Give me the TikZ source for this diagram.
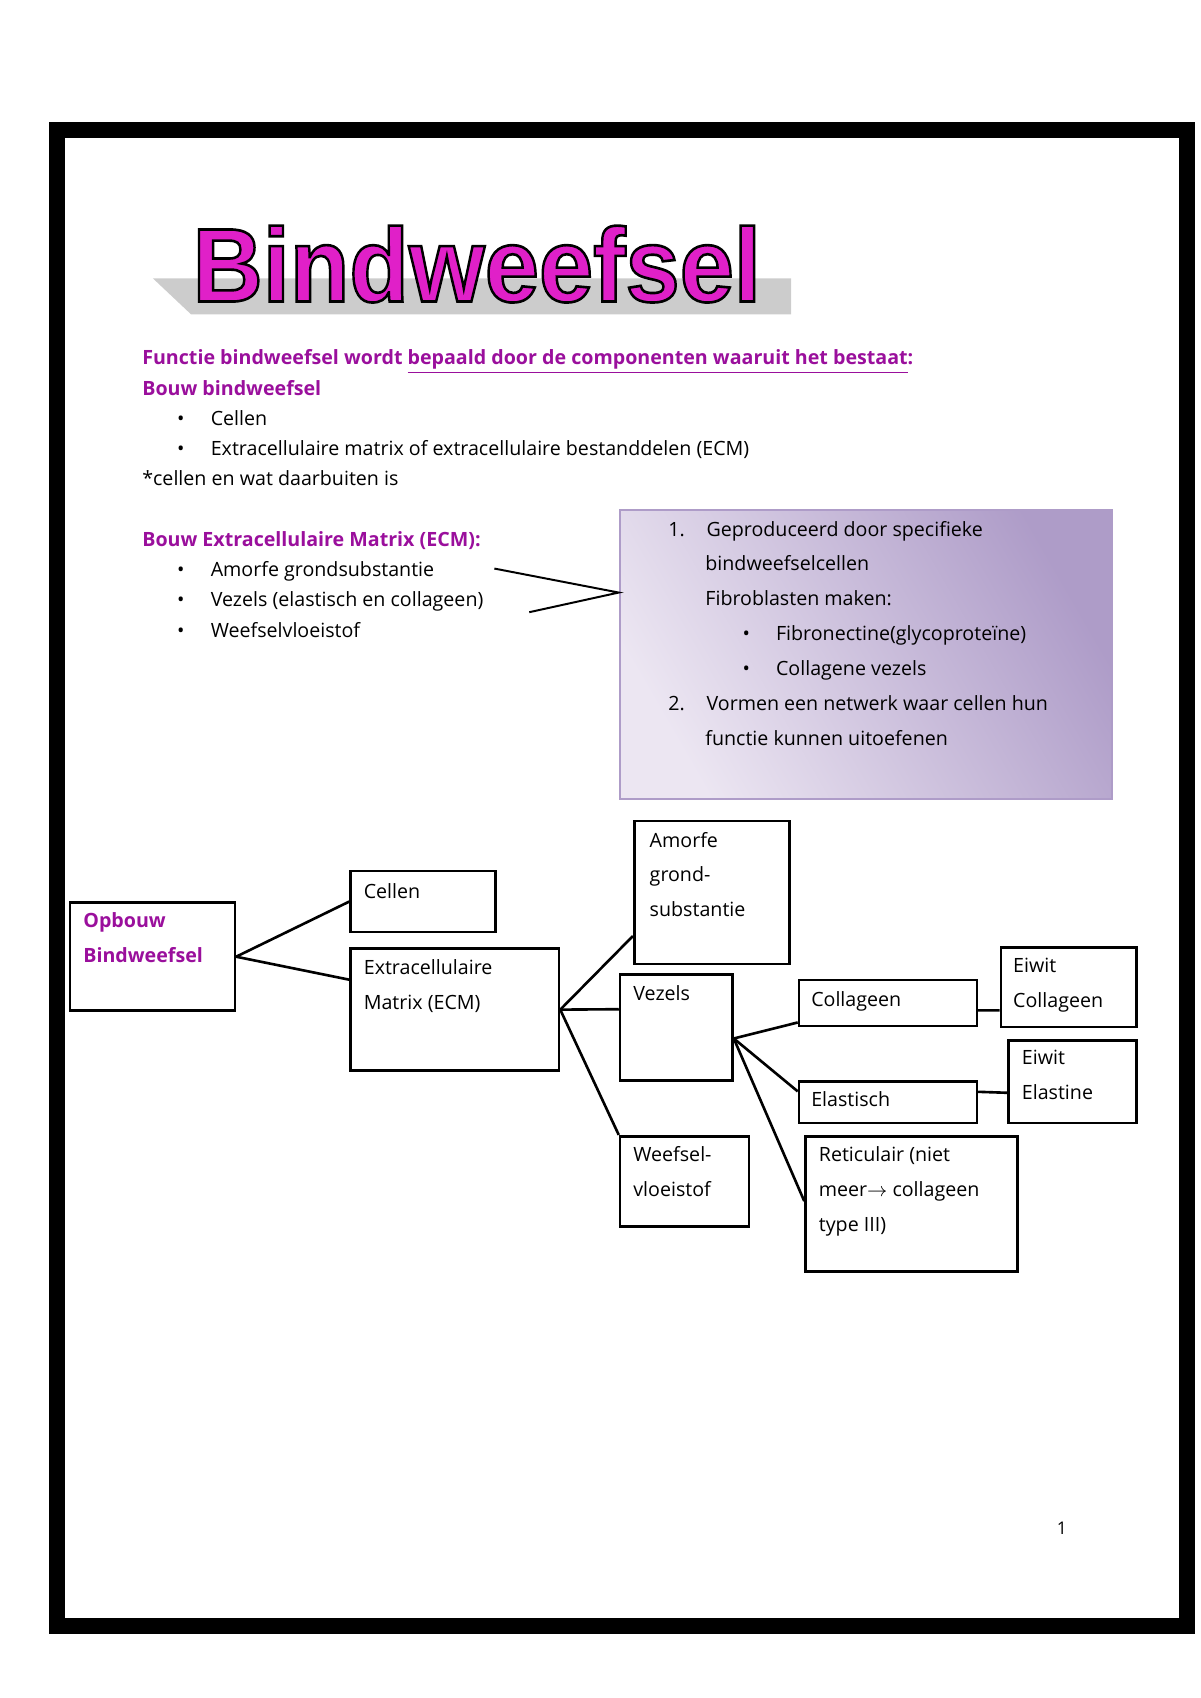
\documentclass[tikz,border=0pt]{standalone}
\usepackage{fontspec}
\setmainfont{Open Sans}
\newfontfamily\titlefont{Liberation Sans}
\usetikzlibrary{calc}
\definecolor{pur}{HTML}{9A0F9C}
\definecolor{mag}{HTML}{E020C8}
\definecolor{lavd}{HTML}{AE9CC8}
\definecolor{lavl}{HTML}{ECE6F2}
\tikzset{
 bx/.style={draw,line width=1.2pt,anchor=north west,inner sep=0},
 tx/.style={anchor=north west,align=left,inner sep=0,font=\fontsize{9}{16}\selectfont},
 ln/.style={line width=1.2pt},
 ptx/.style={anchor=north west,align=left,inner sep=0,text=pur,font=\bfseries\fontsize{9}{14}\selectfont}
}
\newcommand{\outl}[1]{\special{pdf:literal direct 2 Tr 1.2 w 0 0 0 RG}#1\special{pdf:literal direct 0 Tr}}
\begin{document}
\begin{tikzpicture}[x=0.5pt,y=-0.5pt]
\useasboundingbox (0,0) rectangle (1100,1556);
\draw[line width=7.5pt] (52,119) rectangle (1088,1490);
% title
\fill[gray!40] (140,255) -- (725,255) -- (725,288) -- (175,288) -- cycle;
\node[anchor=west,inner sep=0,text=mag,xscale=0.93,font=\titlefont\bfseries\fontsize{48}{48}\selectfont] (title) at (176,242) {\outl{Bindweefsel}};
% text
\node[ptx] (f1) at (130,320) {Functie bindweefsel wordt \underline{bepaald door de componenten waaruit het bestaat}:};
\node[ptx] (f2) at (130,348) {Bouw bindweefsel};
\node[tx,font=\fontsize{9}{13.5}\selectfont] (b1) at (162,376) {\textbullet\hspace{12pt}Cellen\\ \textbullet\hspace{12pt}Extracellulaire matrix of extracellulaire bestanddelen (ECM)};
\node[tx] (b2) at (130,431) {*cellen en wat daarbuiten is};
\node[ptx] (f3) at (130,487) {Bouw Extracellulaire Matrix (ECM):};
\node[tx,font=\fontsize{9}{14}\selectfont] (b3) at (162,514) {\textbullet\hspace{12pt}Amorfe grondsubstantie\\ \textbullet\hspace{12pt}Vezels (elastisch en collageen)\\ \textbullet\hspace{12pt}Weefselvloeistof};
% purple box
\node[anchor=north west,inner sep=0,minimum width=451*0.5pt,minimum height=265*0.5pt,draw=lavd,line width=1pt,shading=axis,left color=lavl,right color=lavd,shading angle=120] (pbox) at (567,466) {};
\node[tx] (pt) at (612,477) {1.\hspace{10pt}Geproduceerd door specifieke\\ \hspace{17pt}bindweefselcellen\\ \hspace{17pt}Fibroblasten maken:\\ \hspace{34pt}\textbullet\hspace{12pt}Fibronectine(glycoproteïne)\\ \hspace{34pt}\textbullet\hspace{12pt}Collagene vezels\\ 2.\hspace{10pt}Vormen een netwerk waar cellen hun\\ \hspace{17pt}functie kunnen uitoefenen};
\coordinate (a1) at (453,521);
\coordinate (a2) at (485,561);
\coordinate (ap) at (567,543);
\draw[line width=0.9pt] (a1) -- (ap) -- (a2);
% diagram boxes
\node[bx,minimum width=151*0.5pt,minimum height=99*0.5pt] (opb) at (63,826) {};
\node[bx,minimum width=133*0.5pt,minimum height=56*0.5pt] (cel) at (320,797) {};
\node[bx,minimum width=191*0.5pt,minimum height=112*0.5pt] (ecm) at (320,868) {};
\node[bx,minimum width=142*0.5pt,minimum height=131*0.5pt] (amo) at (580,751) {};
\node[bx,minimum width=103*0.5pt,minimum height=97*0.5pt] (vez) at (567,892) {};
\node[bx,minimum width=118*0.5pt,minimum height=83*0.5pt] (wee) at (567,1040) {};
\node[bx,minimum width=163*0.5pt,minimum height=42*0.5pt] (col) at (731,897) {};
\node[bx,minimum width=163*0.5pt,minimum height=38*0.5pt] (ela) at (731,990) {};
\node[bx,minimum width=194*0.5pt,minimum height=124*0.5pt] (ret) at (737,1040) {};
\node[bx,minimum width=124*0.5pt,minimum height=73*0.5pt] (eic) at (916,867) {};
\node[bx,minimum width=117*0.5pt,minimum height=76*0.5pt] (eie) at (923,952) {};
% labels
\node[ptx,font=\bfseries\fontsize{9}{16}\selectfont] at (76,836) {Opbouw\\Bindweefsel};
\node[tx] at (333,809) {Cellen};
\node[tx] at (333,879) {Extracellulaire\\Matrix (ECM)};
\node[tx] at (595,762) {Amorfe\\grond-\\substantie};
\node[tx] at (580,903) {Vezels};
\node[tx] at (580,1050) {Weefsel-\\vloeistof};
\node[tx] at (743,908) {Collageen};
\node[tx] at (743,1000) {Elastisch};
\node[tx] at (750,1050) {Reticulair (niet\\meer$\rightarrow$ collageen\\type III)};
\node[tx] at (928,878) {Eiwit\\Collageen};
\node[tx] at (936,962) {Eiwit\\Elastine};
\node[anchor=center,font=\fontsize{8}{10}\selectfont] (pg) at (973,1400) {1};
% connectors
\draw[ln] (opb.east) -- ($(cel.south west)!0.5!(cel.north west)$);
\draw[ln] (opb.east) -- ($(ecm.north west)!0.26!(ecm.south west)$);
\draw[ln] (ecm.east) -- ($(amo.south west)!0.2!(amo.north west)$);
\draw[ln] (ecm.east) -- ($(vez.north west)!0.33!(vez.south west)$);
\draw[ln] (ecm.east) -- (wee.north west);
\draw[ln] ($(vez.north east)!0.6!(vez.south east)$) -- ($(col.north west)!0.9!(col.south west)$);
\draw[ln] ($(vez.north east)!0.6!(vez.south east)$) -- ($(ela.north west)!0.25!(ela.south west)$);
\draw[ln] ($(vez.north east)!0.6!(vez.south east)$) -- ($(ret.north west)!0.48!(ret.south west)$);
\draw[ln] ($(col.north east)!0.65!(col.south east)$) -- ($(eic.north west)!0.78!(eic.south west)$);
\draw[ln] ($(ela.north east)!0.26!(ela.south east)$) -- ($(eie.north west)!0.63!(eie.south west)$);
\end{tikzpicture}
\end{document}
